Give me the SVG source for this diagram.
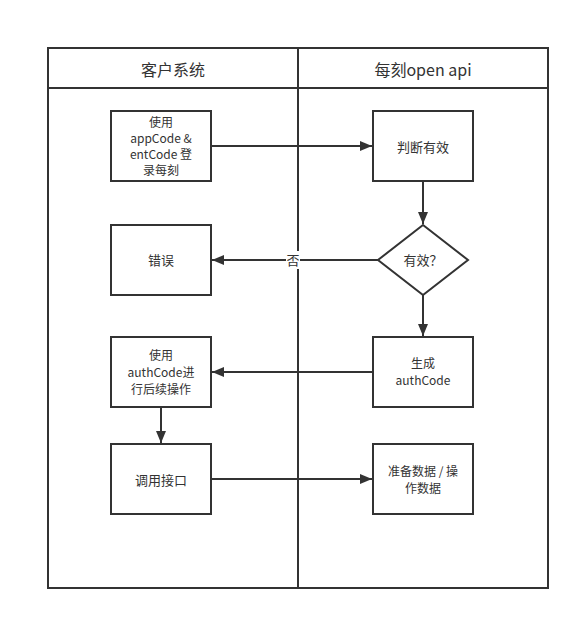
<svg xmlns="http://www.w3.org/2000/svg" width="580" height="620" viewBox="0 0 580 620">
<style>
.b{fill:#fff;stroke:#333;stroke-width:2}
.l{fill:none;stroke:#333;stroke-width:2}
.c{fill:none;stroke:#333;stroke-width:2;marker-end:url(#a)}
text{font-family:"Noto Sans CJK SC","Open Sans",sans-serif;font-size:12px;fill:#333;text-anchor:middle}
.s{font-size:13px}
.h{font-size:16px}
</style>
<defs>
<marker id="a" markerWidth="12" markerHeight="10" refX="12" refY="5" orient="auto" markerUnits="userSpaceOnUse">
<path d="M0,0L12,5L0,10z" fill="#333"/>
</marker>
</defs>
<rect width="580" height="620" fill="#fff"/>
<g id="pool">
<rect class="l" x="48" y="48" width="500" height="540"/>
<line class="l" x1="48" y1="88" x2="548" y2="88"/>
<line class="l" x1="298" y1="48" x2="298" y2="588"/>
<text class="h" x="173" y="75.5">客户系统</text>
<text class="h" x="423" y="75.5">每刻open api</text>
</g>
<g id="connectors">
<line class="c" x1="211" y1="146" x2="372" y2="146"/>
<line class="c" x1="423" y1="181" x2="423" y2="224"/>
<line class="c" x1="378" y1="260" x2="212" y2="260"/>
<rect x="286" y="251" width="14" height="18" fill="#fff"/>
<text class="s" x="293" y="264.5">否</text>
<line class="c" x1="423" y1="295" x2="423" y2="336"/>
<line class="c" x1="373" y1="372" x2="212" y2="372"/>
<line class="c" x1="161" y1="407" x2="161" y2="443"/>
<line class="c" x1="211" y1="479" x2="372" y2="479"/>
</g>
<g id="n1"><rect class="b" x="111" y="111" width="100" height="70"/>
<text x="161" y="127">使用</text><text x="161" y="143">appCode &amp;</text><text x="161" y="159">entCode 登</text><text x="161" y="175">录每刻</text></g>
<g id="n2"><rect class="b" x="373" y="111" width="100" height="70"/><text class="s" x="423" y="151.5">判断有效</text></g>
<g id="n3"><path class="b" d="M423,225L468,260L423,295L378,260z"/><text class="s" x="423" y="264.5">有效？</text></g>
<g id="n4"><rect class="b" x="111" y="225" width="100" height="70"/><text class="s" x="161" y="264.5">错误</text></g>
<g id="n5"><rect class="b" x="373" y="337" width="100" height="70"/><text x="423" y="368">生成</text><text x="423" y="385">authCode</text></g>
<g id="n6"><rect class="b" x="111" y="337" width="100" height="70"/><text x="161" y="360">使用</text><text x="161" y="377">authCode进</text><text x="161" y="394">行后续操作</text></g>
<g id="n7"><rect class="b" x="111" y="444" width="100" height="70"/><text class="s" x="161" y="484.5">调用接口</text></g>
<g id="n8"><rect class="b" x="373" y="444" width="100" height="70"/><text x="423" y="476">准备数据 / 操</text><text x="423" y="493">作数据</text></g>
</svg>
